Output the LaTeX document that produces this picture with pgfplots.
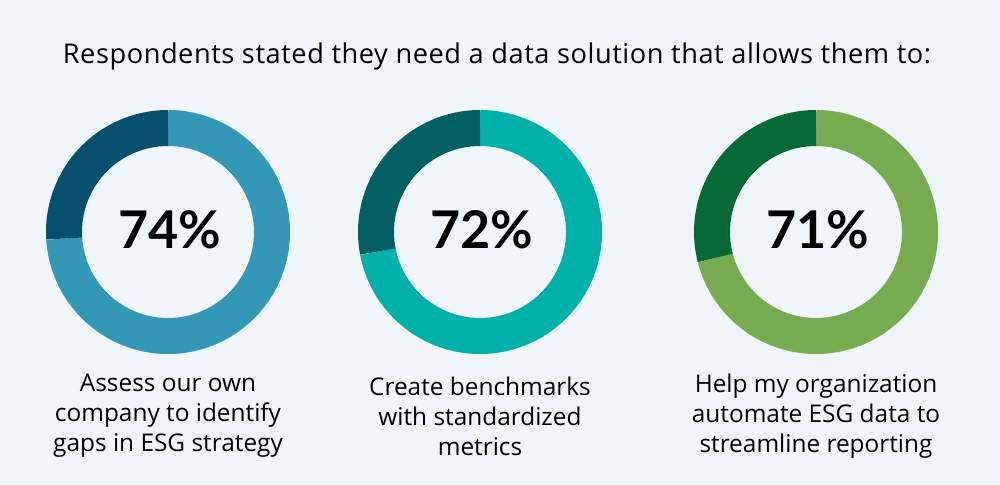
\documentclass[border=0pt]{standalone}
\usepackage{fontspec}
\setmainfont{Open Sans}
\newfontfamily\latofont{Lato}
\newfontfamily\titlefont[LetterSpace=2]{Open Sans}
\usepackage{pgfplots}
\pgfplotsset{compat=1.18}
\definecolor{bg}{HTML}{F0F5F9}
\definecolor{blueL}{HTML}{3397B6}
\definecolor{blueD}{HTML}{06506E}
\definecolor{tealL}{HTML}{00B1AA}
\definecolor{tealD}{HTML}{035F62}
\definecolor{greenL}{HTML}{77AB4F}
\definecolor{greenD}{HTML}{076A36}
% #1 centre x (px), #2 value (%), #3 light colour, #4 dark colour
\newcommand\donut[4]{%
  \addplot[draw=#3, line width=18pt, domain=0:#2, samples=180]
    ({#1+104*cos(90-3.6*x)},{252+104*sin(90-3.6*x)});
  \addplot[draw=#4, line width=18pt, domain=#2:100, samples=90]
    ({#1+104*cos(90-3.6*x)},{252+104*sin(90-3.6*x)});
}
\begin{document}
\begin{tikzpicture}
\begin{axis}[
  x=0.5pt, y=0.5pt,
  xmin=0, xmax=1000, ymin=0, ymax=484,
  axis lines=none, clip=false,
  scale only axis,
]
\fill[bg] (axis cs:0,0) rectangle (axis cs:1000,484);
\donut{168}{74}{blueL}{blueD}
\donut{480}{72}{tealL}{tealD}
\donut{816}{71}{greenL}{greenD}
\node[font=\fontsize{13.6pt}{15pt}\titlefont] at (axis cs:497,428) {Respondents stated they need a data solution that allows them to:};
\node[font=\fontsize{26pt}{30pt}\latofont\bfseries] at (axis cs:170,254) {74\%};
\node[font=\fontsize{26pt}{30pt}\latofont\bfseries] at (axis cs:482,254) {72\%};
\node[font=\fontsize{26pt}{30pt}\latofont\bfseries] at (axis cs:818,254) {71\%};
\node[align=center, font=\fontsize{12.2pt}{15pt}\selectfont] at (axis cs:168,68) {Assess our own\\company to identify\\gaps in ESG strategy};
\node[align=center, font=\fontsize{12.2pt}{15pt}\selectfont] at (axis cs:480,68) {Create benchmarks\\with standardized\\metrics};
\node[align=center, font=\fontsize{12.2pt}{15pt}\selectfont] at (axis cs:816,68) {Help my organization\\automate ESG data to\\streamline reporting};
\end{axis}
\end{tikzpicture}
\end{document}
